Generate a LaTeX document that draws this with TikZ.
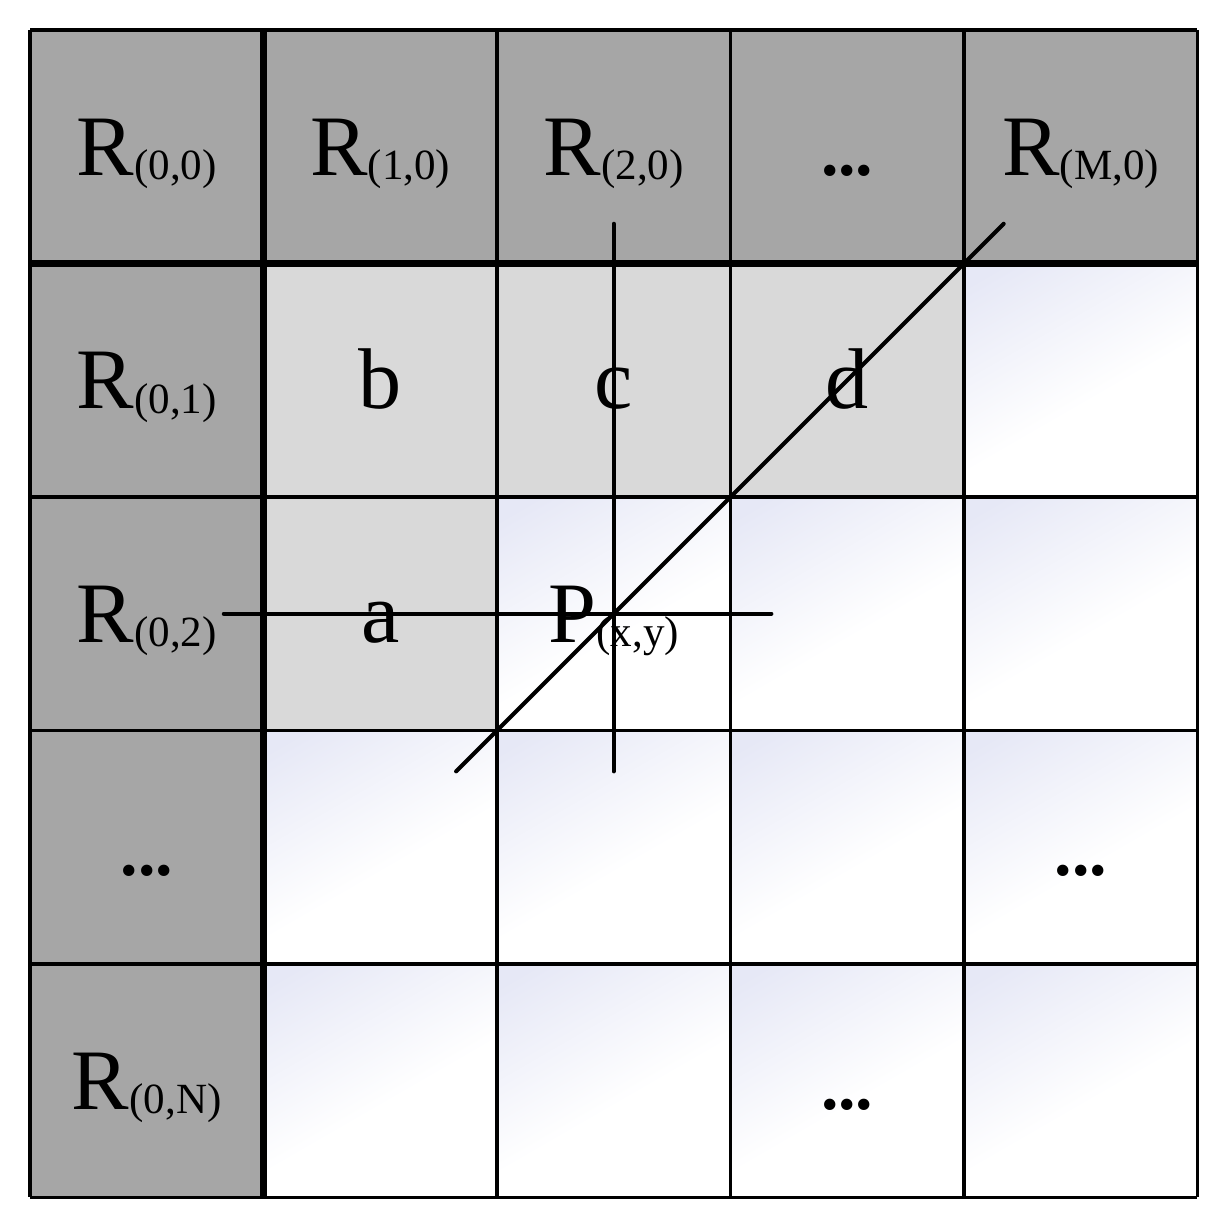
\documentclass[tikz,border=0pt]{standalone}
\usepackage{fontspec}
\setmainfont{Liberation Serif}
\usetikzlibrary{calc}
\definecolor{hdrgray}{RGB}{166,166,166}
\definecolor{nbrgray}{RGB}{217,217,217}
\definecolor{cellblue}{RGB}{230,232,246}
\pgfdeclareverticalshading{cellfade}{100bp}{color(0bp)=(white); color(45bp)=(white); color(80bp)=(cellblue); color(100bp)=(cellblue)}
\newcommand{\klab}[2]{#1\raisebox{-1.2pt}{\fontsize{10.5}{12}\selectfont(#2)}}
\newcommand{\kdots}{{\fontsize{17}{17}\selectfont\bfseries...}}
\begin{document}
\begin{tikzpicture}[
  lbl/.style={font=\fontsize{21}{24}\selectfont,text height=13.8pt,text depth=0pt,inner sep=0pt},
  thingrid/.style={line width=0.75pt},
  thickgrid/.style={line width=1.8pt},
  cut/.style={line width=1pt,line cap=round}]
\pgfmathsetmacro{\kc}{2}
\pgfmathsetmacro{\klong}{3.34}
\pgfmathsetmacro{\kshort}{1.35}
\useasboundingbox(-0.257,0.257) rectangle (5*\kc+0.218,-5*\kc-0.253);
% header row and column
\foreach \kx in {0,...,4}{\fill[hdrgray](\kx*\kc,0) rectangle ++(\kc,-\kc);}
\foreach \ky in {1,...,4}{\fill[hdrgray](0,-\ky*\kc) rectangle ++(\kc,-\kc);}
% neighbour cells
\foreach \kx/\ky in {1/1,2/1,3/1,1/2}{\fill[nbrgray](\kx*\kc,-\ky*\kc) rectangle ++(\kc,-\kc);}
% open cells
\foreach \kx/\ky in {4/1,2/2,3/2,4/2,1/3,2/3,3/3,4/3,1/4,2/4,3/4,4/4}{\shade[shading=cellfade,shading angle=30](\kx*\kc,-\ky*\kc) rectangle ++(\kc,-\kc);}
% grid
\foreach \x in {0,...,5}{\draw[thingrid](\x*\kc,0)--++(0,-5*\kc);}
\foreach \y in {0,...,5}{\draw[thingrid](0,-\y*\kc)--++(5*\kc,0);}
\draw[thickgrid](\kc,0)--++(0,-5*\kc);
\draw[thickgrid](0,-\kc)--++(5*\kc,0);
% labels
\foreach \kx/\a in {0/{0,0},1/{1,0},2/{2,0},4/{M,0}}{\node[lbl](r\kx0) at (\kx*\kc+\kc/2,-\kc/2){\klab{R}{\a}};}
\foreach \ky/\a in {1/{0,1},2/{0,2},4/{0,N}}{\node[lbl](r0\ky) at (\kc/2,-\ky*\kc-\kc/2){\klab{R}{\a}};}
\foreach \kx/\ky in {3/0,0/3,4/3,3/4}{\node[lbl](dots\kx\ky) at (\kx*\kc+\kc/2,-\ky*\kc-\kc/2){\kdots};}
\foreach \kx/\ky/\a in {1/1/b,2/1/c,3/1/d,1/2/a}{\node[lbl](\a) at (\kx*\kc+\kc/2,-\ky*\kc-\kc/2){\a};}
\node[lbl](P) at (2*\kc+\kc/2,-2*\kc-\kc/2){\klab{P}{x,y}};
% lines through P
\coordinate(vtop) at ($(P)+(0,\klong)$);
\coordinate(vbot) at ($(P)+(0,-\kshort)$);
\coordinate(hleft) at ($(P)+(-\klong,0)$);
\coordinate(hright) at ($(P)+(\kshort,0)$);
\coordinate(dlow) at ($(P)+(-\kshort,-\kshort)$);
\coordinate(dhigh) at ($(P)+(\klong,\klong)$);
\draw[cut](vtop)--(vbot);
\draw[cut](hleft)--(hright);
\draw[cut](dlow)--(dhigh);
\end{tikzpicture}
\end{document}
